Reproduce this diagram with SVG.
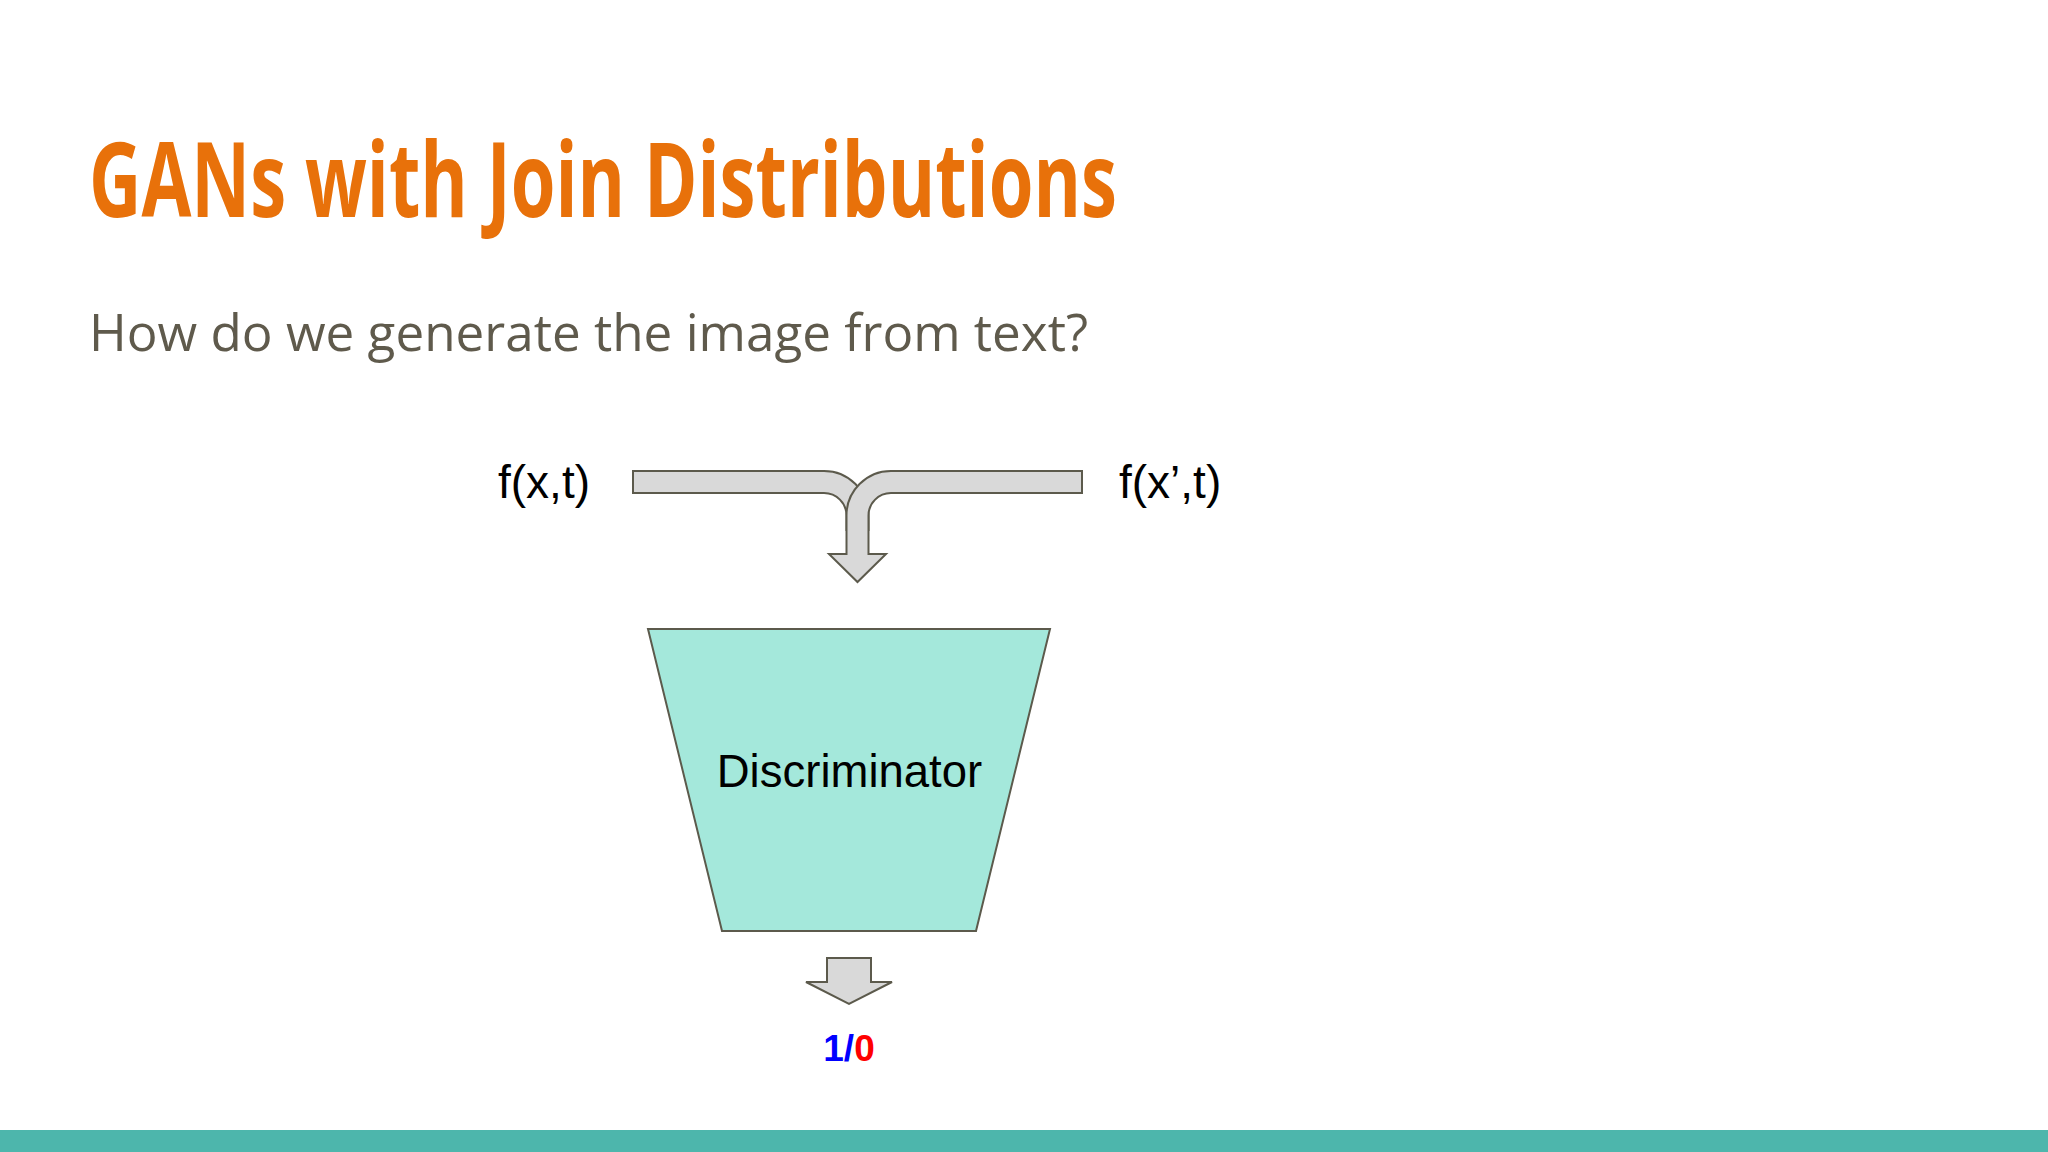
<svg xmlns="http://www.w3.org/2000/svg" width="2048" height="1152" viewBox="0 0 2048 1152">
<style>
.title{font-family:"Liberation Sans Narrow","Open Sans",sans-serif;font-weight:700;fill:#e8710a}
.sub{font-family:"Open Sans","Liberation Sans",sans-serif;fill:#5f5a4c}
.lbl{font-family:"Liberation Sans",Arial,sans-serif;fill:#000}
.arrow{fill:#d9d9d9;stroke:#5c5a4c;stroke-width:2;stroke-linejoin:miter}
</style>
<rect x="0" y="0" width="2048" height="1152" fill="#ffffff"/>
<rect x="0" y="1130" width="2048" height="22" fill="#4db6ac"/>
<text class="title" x="89" y="217" font-size="104" textLength="1028" lengthAdjust="spacingAndGlyphs">GANs with Join Distributions</text>
<text class="sub" x="89" y="351" font-size="52" textLength="999" lengthAdjust="spacingAndGlyphs">How do we generate the image from text?</text>
<g id="label-fxt"><text class="lbl" x="498" y="498" font-size="46">f(x,t)</text></g>
<g id="label-fx2t"><text class="lbl" x="1119" y="498" font-size="46">f(x’,t)</text></g>
<g id="connectors">
<path class="arrow" d="M633,471 H824 A44.5,44.5 0 0 1 868.5,515.5 V530 H846.5 V515.5 A22.5,22.5 0 0 0 824,493 H633 Z"/>
<path class="arrow" d="M1082,471 H891 A44.5,44.5 0 0 0 846.5,515.5 V554 H829 L857.5,582 L886,554 H868.5 V515.5 A22.5,22.5 0 0 1 891,493 H1082 Z"/>
<path class="arrow" d="M827,958 H871 V982 H892 L849,1004 L806,982 H827 Z"/>
</g>
<g id="discriminator">
<polygon points="648,629 1050,629 976,931 722,931" fill="#a4e8db" stroke="#5c5a4c" stroke-width="2"/>
<text class="lbl" x="849.5" y="787" font-size="45.5" text-anchor="middle">Discriminator</text>
</g>
<g id="output">
<text x="849" y="1061" font-size="37" font-weight="700" font-family="'Liberation Sans',Arial,sans-serif" text-anchor="middle"><tspan fill="#0000ff">1/</tspan><tspan fill="#ff0000">0</tspan></text>
</g>
</svg>
